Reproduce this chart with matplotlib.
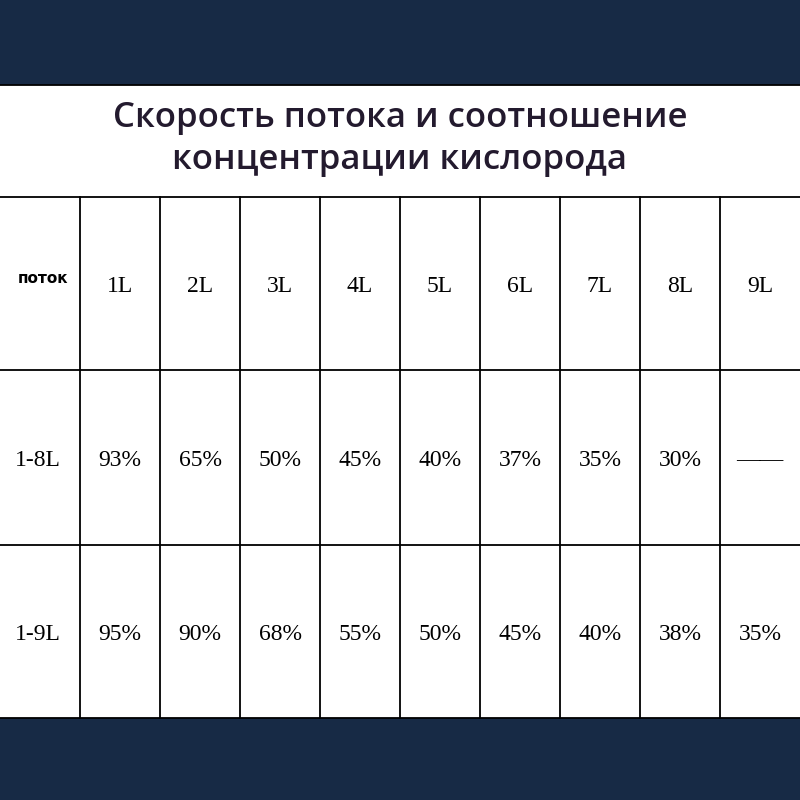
import matplotlib
matplotlib.use("Agg")
import matplotlib.pyplot as plt

title_lines = ["Скорость потока и соотношение", "концентрации кислорода"]
row_header = "поток"
flows = ["1L", "2L", "3L", "4L", "5L", "6L", "7L", "8L", "9L"]
models = ["1-8L", "1-9L"]
ratio_18 = ["93%", "65%", "50%", "45%", "40%", "37%", "35%", "30%", "——"]
ratio_19 = ["95%", "90%", "68%", "55%", "50%", "45%", "40%", "38%", "35%"]

fig = plt.figure(figsize=(8, 8), dpi=100)
fig.patch.set_facecolor("#172a45")
ax = fig.add_axes([0, 0, 1, 1])
ax.set_xlim(0, 800); ax.set_ylim(800, 0); ax.axis("off")

top, title_bot, bot = 85, 197, 718
ax.add_patch(plt.Rectangle((0, top), 800, bot - top, facecolor="white", edgecolor="none"))
row_edges = [title_bot, 370, 545, bot]
col_edges = [0] + [80 + 80 * i for i in range(10)]
lw = 1.3
for y in [top, title_bot, 370, 545, bot]:
    ax.plot([0, 800], [y, y], color="black", lw=lw)
for x in col_edges[1:-1]:
    ax.plot([x, x], [title_bot, bot], color="black", lw=lw)

ax.text(400, 118, title_lines[0], ha="center", va="center", fontsize=25, family="Open Sans", fontweight="semibold", color="#231a2e")
ax.text(400, 160, title_lines[1], ha="center", va="center", fontsize=25, family="Open Sans", fontweight="semibold", color="#231a2e")

def cy(r): return (row_edges[r] + row_edges[r + 1]) / 2
def cx(c): return (col_edges[c] + col_edges[c + 1]) / 2

ax.text(cx(0) + 3, cy(0) - 5, row_header, ha="center", va="center", fontsize=11, fontweight="bold", family="DejaVu Sans")
serif = "Liberation Serif"
fs = 17
for i, f in enumerate(flows):
    ax.text(cx(i + 1), cy(0) + 3, f, ha="center", va="center", fontsize=fs, family=serif)
for r, (m, vals) in enumerate(zip(models, [ratio_18, ratio_19])):
    ax.text(cx(0) - 2, cy(r + 1) + 3, m, ha="center", va="center", fontsize=fs, family=serif)
    for i, v in enumerate(vals):
        ax.text(cx(i + 1), cy(r + 1) + 3, v, ha="center", va="center", fontsize=fs, family=serif)

fig.savefig("out.png", dpi=100, facecolor=fig.get_facecolor())
